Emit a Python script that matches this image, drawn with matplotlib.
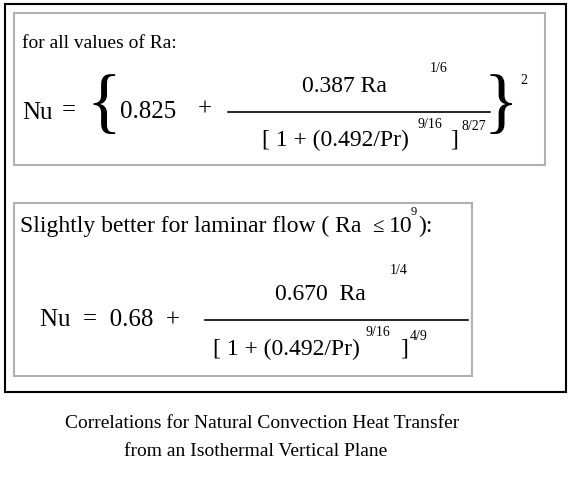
import matplotlib
matplotlib.use("Agg")
import matplotlib.pyplot as plt
from matplotlib.patches import Rectangle

# ── Text content ─────────────────────────────────────────────
HEADER_1 = "for all values of Ra:"
HEADER_2 = ["Slightly better for laminar flow ( Ra", "\u2264", "10", "9", "):"]
CAPTION = ["Correlations for Natural Convection Heat Transfer",
           "from an Isothermal Vertical Plane"]

plt.rcParams["font.family"] = ["Liberation Serif", "DejaVu Serif"]

fig = plt.figure(figsize=(5.76, 4.8), dpi=100)
ax = fig.add_axes([0, 0, 1, 1])
ax.set_xlim(0, 576)
ax.set_ylim(480, 0)
ax.axis("off")


def t(x, y, s, size, ha="left", va="center"):
    ax.text(x, y, s, fontsize=size, ha=ha, va=va, color="black")


# boxes
ax.add_patch(Rectangle((5, 4), 561, 388, fill=False, lw=1.5, ec="black"))
ax.add_patch(Rectangle((14, 13), 531, 152, fill=False, lw=1.5, ec="#b0b0b0"))
ax.add_patch(Rectangle((14, 203), 458, 173, fill=False, lw=1.5, ec="#b0b0b0"))

# ── formula 1 ────────────────────────────────────────────────
t(22, 44, HEADER_1, 14)
t(22, 113, "Nu", 18)
t(62, 110, "=", 18)
t(86, 106, "{", 52)
t(120, 112, "0.825", 18)
t(198, 110, "+", 18)
t(302, 87, "0.387 Ra", 17)
t(430, 68, "1/6", 10)
ax.plot([228, 490], [112, 112], color="black", lw=1.2)
t(262, 140, "[ 1 + (0.492/Pr)", 17)
t(417, 124, "9/16", 10)
t(450, 140, "]", 17)
t(461, 127, "8/27", 10)
t(484, 106, "}", 52)
t(520, 80, "2", 10)

# ── formula 2 ────────────────────────────────────────────────
t(20, 226, HEADER_2[0], 17)
t(372, 227, HEADER_2[1], 15)
t(389, 226, HEADER_2[2], 17)
t(411, 212, HEADER_2[3], 9)
t(418, 226, HEADER_2[4], 17)
t(40, 320, "Nu  =  0.68  +", 18)
t(275, 294, "0.670  Ra", 17)
t(390, 270, "1/4", 10)
ax.plot([205, 468], [320, 320], color="black", lw=1.2)
t(213, 349, "[ 1 + (0.492/Pr)", 17)
t(366, 333, "9/16", 10)
t(400, 349, "]", 17)
t(410, 336, "4/9", 10)

# ── caption ──────────────────────────────────────────────────
t(262, 424, CAPTION[0], 14, ha="center")
t(256, 452, CAPTION[1], 14, ha="center")

fig.savefig("out.png", dpi=100)
